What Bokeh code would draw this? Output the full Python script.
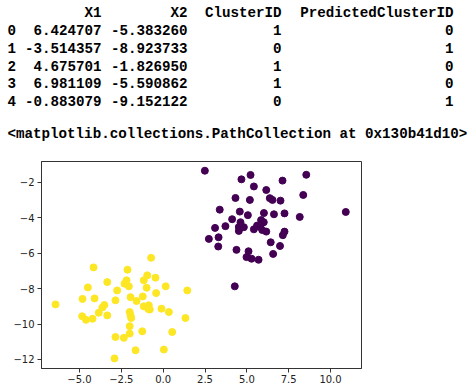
from bokeh.plotting import figure
from bokeh.models import Range1d, FixedTicker
from bokeh.core.properties import value
from bokeh.embed import file_html
from bokeh.resources import INLINE

# ---- table shown above the chart (df.head()) ----
table_index = [0, 1, 2, 3, 4]
table_x1 = [6.424707, -3.514357, 4.675701, 6.981109, -0.883079]
table_x2 = [-5.383260, -8.923733, -1.826950, -5.590862, -9.152122]
table_cluster = [1, 0, 1, 1, 0]
table_pred = [0, 1, 0, 0, 1]
table_headers = ["X1", "X2", "ClusterID", "PredictedClusterID"]
repr_line = "<matplotlib.collections.PathCollection at 0x130b41d10>"

# ---- scatter data ----
yellow_x = [-6.43, -4.16, -4.50, -4.82, -4.10, -3.514, -3.63, -3.85, -3.34, -4.84,
            -4.61, -4.22, -3.34, -2.75, -2.85, -2.13, -2.19, -2.31, -2.05, -1.95,
            -2.00, -1.95, -1.91, -1.59, -1.22, -1.16, -0.95, -0.99, -1.16, -0.883,
            -0.80, -0.86, -0.46, -0.42, -0.72, 0.15, -0.10, 0.34, 1.33, 1.44,
            -2.00, -2.00, -1.25, -2.85, -2.35, 0.54, -1.65, 0.04, -2.91]
yellow_y = [-8.89, -6.80, -7.93, -8.58, -8.55, -8.924, -9.06, -9.36, -9.51, -9.56,
            -9.76, -9.70, -7.63, -8.10, -8.66, -6.93, -7.53, -7.72, -7.87, -8.48,
            -9.32, -9.51, -9.66, -8.70, -8.44, -7.53, -7.25, -7.95, -9.00, -9.152,
            -9.18, -8.94, -7.38, -8.25, -6.26, -7.87, -9.13, -9.32, -9.66, -8.10,
            -10.12, -10.54, -10.41, -10.73, -10.78, -10.45, -11.48, -11.44, -11.94]

purple_x = [2.49, 4.676, 5.22, 5.42, 6.16, 7.13, 8.55, 4.32, 5.18, 6.37,
            6.53, 7.01, 8.37, 3.38, 4.58, 5.06, 6.02, 6.62, 7.25, 8.16,
            10.91, 4.12, 3.72, 3.10, 4.52, 4.52, 4.82, 4.62, 5.42, 5.61,
            5.85, 6.01, 5.80, 5.92, 6.16, 7.25, 7.15, 2.73, 3.31, 3.29,
            4.38, 6.425, 6.981, 5.10, 4.98, 5.28, 5.70, 6.57, 4.28]
purple_y = [-1.34, -1.827, -1.58, -2.23, -2.43, -1.90, -1.57, -2.88, -2.99, -2.89,
            -2.99, -3.03, -2.71, -3.54, -3.65, -3.85, -3.73, -3.80, -3.75, -3.95,
            -3.67, -4.08, -4.47, -4.57, -4.52, -4.74, -4.53, -4.25, -4.65, -4.44,
            -4.13, -4.25, -4.52, -4.69, -4.78, -4.78, -4.98, -5.19, -5.10, -5.62,
            -5.81, -5.383, -5.591, -5.89, -6.22, -6.31, -6.37, -6.04, -7.87]

x_ticks = [-5.0, -2.5, 0.0, 2.5, 5.0, 7.5, 10.0]
x_tick_labels = ["\u22125.0", "\u22122.5", "0.0", "2.5", "5.0", "7.5", "10.0"]
y_ticks = [-2, -4, -6, -8, -10, -12]
y_tick_labels = ["\u22122", "\u22124", "\u22126", "\u22128", "\u221210", "\u221212"]

PURPLE = "#440154"
YELLOW = "#fde725"

W = 472
HA = 148
HB = 241

# ---------------- text panel (its own root, so no frame alignment) ----------------
pa = figure(width=W, height=HA, x_range=Range1d(0, W), y_range=Range1d(HA, 0),
            x_axis_type=None, y_axis_type=None, output_backend="svg",
            toolbar_location=None, min_border=0)
pa.grid.visible = False
pa.outline_line_color = None

mono = dict(text_font=value("Liberation Mono"), text_font_style="bold",
            text_font_size="14.2px", text_baseline="middle", text_color="black")

header_y = 12.5
row_y = [29.5 + 17.8 * i for i in range(len(table_index))]
col_right = [101, 187, 281, 453]
index_left = 7

pa.text(x=col_right, y=[header_y] * 4, text=table_headers, text_align="right", **mono)
pa.text(x=[index_left] * len(table_index), y=row_y, text=[str(i) for i in table_index],
        text_align="left", **mono)
cols = [
    [f"{v:.6f}" for v in table_x1],
    [f"{v:.6f}" for v in table_x2],
    [str(v) for v in table_cluster],
    [str(v) for v in table_pred],
]
for cx, strs in zip(col_right, cols):
    pa.text(x=[cx] * len(strs), y=row_y, text=strs, text_align="right", **mono)

pa.text(x=[index_left], y=[133.3], text=[repr_line], text_align="left", **mono)

# ---------------- scatter panel ----------------
pb = figure(width=W, height=HB, x_range=Range1d(-7.27, 11.85), y_range=Range1d(-12.51, -0.82),
            output_backend="svg", toolbar_location=None,
            min_border_left=41, min_border_right=W - 361, min_border_top=161 - HA,
            min_border_bottom=HA + HB - 368)
pb.grid.visible = False
pb.outline_line_color = "#333333"
pb.outline_line_width = 1

pb.scatter(purple_x, purple_y, size=7, fill_color=PURPLE, line_color=PURPLE)
pb.scatter(yellow_x, yellow_y, size=7, fill_color=YELLOW, line_color=YELLOW)

pb.xaxis.ticker = FixedTicker(ticks=x_ticks)
pb.xaxis.major_label_overrides = {t: l for t, l in zip(x_ticks, x_tick_labels)}
pb.yaxis.ticker = FixedTicker(ticks=y_ticks)
pb.yaxis.major_label_overrides = {t: l for t, l in zip(y_ticks, y_tick_labels)}

for ax in (pb.xaxis, pb.yaxis):
    ax.axis_line_color = "#333333"
    ax.major_tick_line_color = "#333333"
    ax.major_tick_in = 0
    ax.major_tick_out = 4
    ax.minor_tick_line_color = None
    ax.major_label_text_font = "DejaVu Sans"
    ax.major_label_text_font_size = "10px"
    ax.major_label_text_color = "#222222"
pb.xaxis.major_label_standoff = 2
pb.yaxis.major_label_standoff = 3

open("out.html", "w").write(file_html([pa, pb], INLINE))
